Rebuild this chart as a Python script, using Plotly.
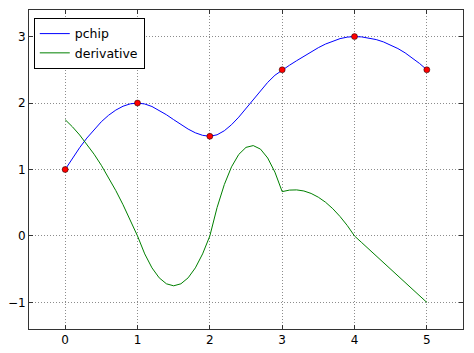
import plotly.graph_objects as go

# data points
x_pts = [0, 1, 2, 3, 4, 5]
y_pts = [1, 2, 1.5, 2.5, 3, 2.5]

# curve sample positions
x_curve = [round(i * 0.1, 1) for i in range(51)]

# pchip curve values
y_pchip = [
    1.000, 1.170, 1.328, 1.473, 1.604, 1.719, 1.816, 1.894, 1.952, 1.988,
    2.000, 1.986, 1.948, 1.892, 1.824, 1.750, 1.676, 1.608, 1.552, 1.514,
    1.500, 1.522, 1.583, 1.674, 1.788, 1.917, 2.052, 2.186, 2.311, 2.418,
    2.500, 2.568, 2.637, 2.706, 2.772, 2.833, 2.888, 2.934, 2.969, 2.992,
    3.000, 2.995, 2.980, 2.955, 2.920, 2.875, 2.820, 2.755, 2.680, 2.595,
    2.500,
]

# derivative curve values
y_deriv = [
    1.750, 1.643, 1.520, 1.383, 1.230, 1.063, 0.880, 0.683, 0.470, 0.243,
    0.000, -0.270, -0.480, -0.630, -0.720, -0.750, -0.720, -0.630, -0.480, -0.270,
    0.000, 0.427, 0.773, 1.040, 1.227, 1.333, 1.360, 1.307, 1.173, 0.960,
    0.667, 0.690, 0.693, 0.677, 0.640, 0.583, 0.507, 0.410, 0.293, 0.157,
    0.000, -0.100, -0.200, -0.300, -0.400, -0.500, -0.600, -0.700, -0.800, -0.900,
    -1.000,
]

x_ticks = [0, 1, 2, 3, 4, 5]
y_ticks = [-1, 0, 1, 2, 3]

fig = go.Figure()
fig.add_trace(go.Scatter(x=x_curve, y=y_pchip, mode="lines", name="pchip",
                         line=dict(color="#0000ff", width=1)))
fig.add_trace(go.Scatter(x=x_curve, y=y_deriv, mode="lines", name="derivative",
                         line=dict(color="#008000", width=1)))
fig.add_trace(go.Scatter(x=x_pts, y=y_pts, mode="markers", showlegend=False,
                         marker=dict(color="#ff0000", size=6,
                                     line=dict(color="#000000", width=0.5))))

axis_common = dict(
    showline=True, linecolor="#333333", linewidth=1, mirror="ticks",
    ticks="inside", ticklen=4, tickcolor="#333333",
    showgrid=True, gridcolor="#8c8c8c", griddash="1px,2px", gridwidth=1,
    zeroline=False, automargin=False,
    tickfont=dict(family="DejaVu Sans", size=12, color="#000000"),
)

fig.update_layout(
    width=474, height=353,
    margin=dict(l=29, r=11, t=10, b=24),
    paper_bgcolor="white", plot_bgcolor="white",
    showlegend=True,
    legend=dict(x=0.011, y=0.975, xanchor="left", yanchor="top",
                bordercolor="#000000", borderwidth=1, bgcolor="white",
                font=dict(family="DejaVu Sans", size=12.5, color="#000000"),
                tracegroupgap=0, itemwidth=30),
)
fig.update_xaxes(range=[-0.5, 5.5], tickvals=x_ticks, **axis_common)
fig.update_yaxes(range=[-1.4, 3.4], tickvals=y_ticks, **axis_common)

fig.write_html("out.html")
